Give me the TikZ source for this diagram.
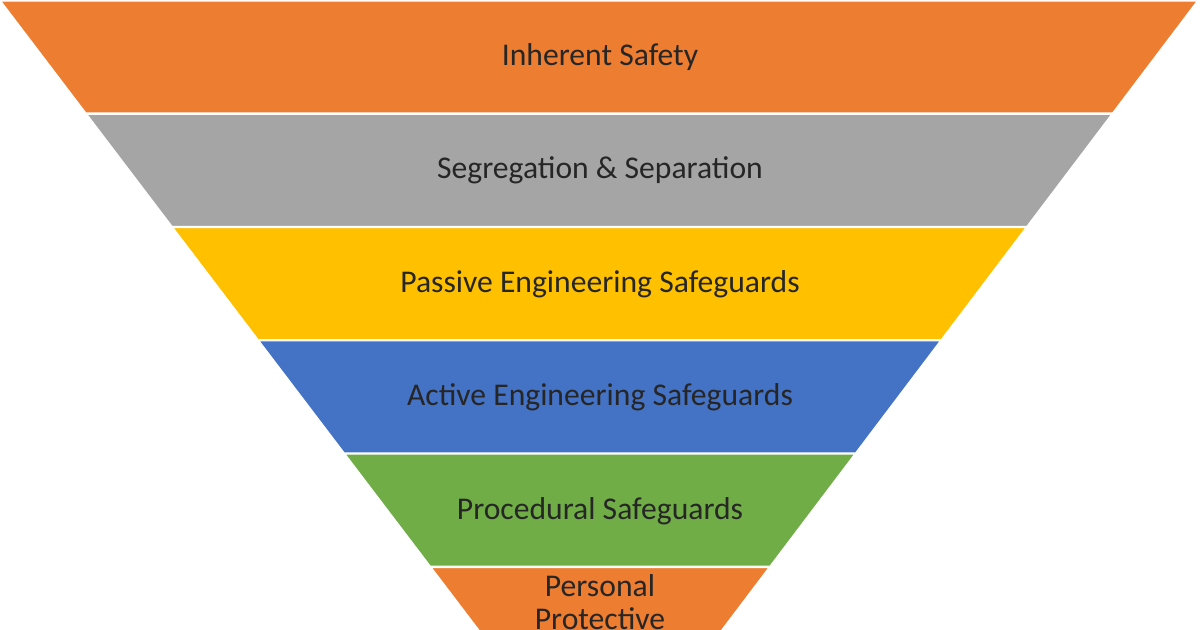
\documentclass[tikz,border=0pt]{standalone}
\usepackage{fontspec}
\setmainfont{Carlito}
\definecolor{bandOrange}{HTML}{ED7D31}
\definecolor{bandGray}{HTML}{A5A5A5}
\definecolor{bandGold}{HTML}{FFC000}
\definecolor{bandBlue}{HTML}{4472C4}
\definecolor{bandGreen}{HTML}{70AD47}
\tikzset{
  band/.style={draw=white, line width=1.5pt, line join=round},
  bandText/.style={align=center, font=\fontsize{45}{47}\selectfont, text=black!85}
}
\begin{document}
\begin{tikzpicture}[x=0.5mm,y=-0.5mm]
  \useasboundingbox (0,0) rectangle (1200,630);
  \clip (0,0) rectangle (1200,630);
  % bands of the inverted pyramid
  \foreach \i/\col in {0/bandOrange,1/bandGray,2/bandGold,3/bandBlue,4/bandGreen,5/bandOrange}{
    \pgfmathsetmacro{\ya}{1+113.3*\i}
    \pgfmathsetmacro{\yb}{\ya+112}
    \fill[\col, band] ({0.76*\ya},\ya) -- ({1198-0.756*\ya},\ya) -- ({1198-0.756*\yb},\yb) -- ({0.76*\yb},\yb) -- cycle;
  }
  % labels
  \node[bandText] (inherent) at (600,57) {Inherent Safety};
  \node[bandText] (segregation) at (600,170) {Segregation \& Separation};
  \node[bandText] (passive) at (600,284) {Passive Engineering Safeguards};
  \node[bandText] (active) at (600,397) {Active Engineering Safeguards};
  \node[bandText] (procedural) at (600,511) {Procedural Safeguards};
  \node[bandText, anchor=north] (personal) at (600,572) {Personal\\Protective};
\end{tikzpicture}
\end{document}
